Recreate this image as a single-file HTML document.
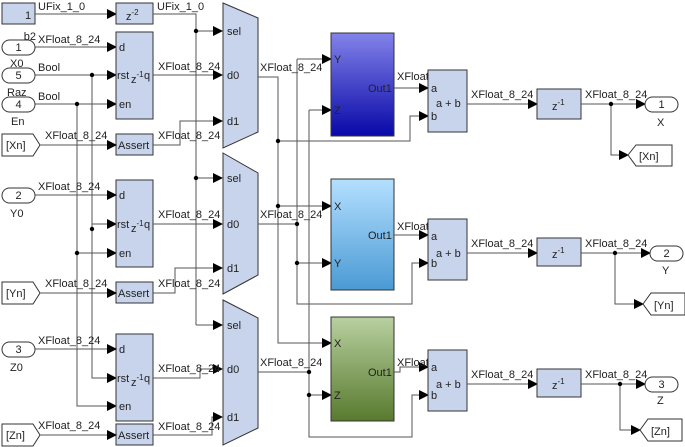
<!DOCTYPE html>
<html><head><meta charset="utf-8"><style>
html,body{margin:0;padding:0;background:#fff}
svg{display:block}
text{font-family:"Liberation Sans",sans-serif;font-size:11px;fill:#222}
.l{stroke:#555;stroke-width:1;fill:none}
.b{fill:#c8d4ec;stroke:#333;stroke-width:1}
</style></head><body>
<svg width="685" height="447" viewBox="0 0 685 447" xmlns="http://www.w3.org/2000/svg">
<defs>
<marker id="a" markerWidth="10" markerHeight="10" refX="9" refY="5" orient="auto" markerUnits="userSpaceOnUse"><path d="M0,0 L10,5 L0,10 z" fill="#000"/></marker>
<linearGradient id="g1" x1="0" y1="0" x2="0" y2="1"><stop offset="0" stop-color="#8383ea"/><stop offset="1" stop-color="#0808a8"/></linearGradient>
<linearGradient id="g2" x1="0" y1="0" x2="0" y2="1"><stop offset="0" stop-color="#b4e0ff"/><stop offset="1" stop-color="#4a9ad4"/></linearGradient>
<linearGradient id="g3" x1="0" y1="0" x2="0" y2="1"><stop offset="0" stop-color="#b8d0a0"/><stop offset="1" stop-color="#587a2e"/></linearGradient>
</defs>

<rect class="b" x="2" y="3" width="33" height="21"/><text x="25" y="19">1</text>
<path class="l" d="M35,14 H116" marker-end="url(#a)"/><text x="38" y="10">UFix_1_0</text>
<rect class="b" x="116" y="3" width="37" height="21"/><text x="126" y="20">z<tspan dy="-5" font-size="8">-2</tspan></text>
<text x="157" y="10">UFix_1_0</text>
<path class="l" d="M153,14 H196 V325"/>
<path class="l" d="M196,31 H222" marker-end="url(#a)"/>
<path class="l" d="M196,178 H222" marker-end="url(#a)"/>
<path class="l" d="M196,325 H222" marker-end="url(#a)"/>
<circle cx="196" cy="31" r="2.2"/><circle cx="196" cy="178" r="2.2"/>

<text x="36" y="40" text-anchor="end">b2</text>
<rect x="2" y="40" width="33" height="15" rx="7.5" fill="#fff" stroke="#333"/><text x="18.5" y="51" text-anchor="middle">1</text>
<text x="10" y="67">X0</text>
<rect x="2" y="68" width="33" height="15" rx="7.5" fill="#fff" stroke="#333"/><text x="18.5" y="79" text-anchor="middle">5</text>
<text x="7" y="96">Raz</text>
<rect x="2" y="97" width="33" height="15" rx="7.5" fill="#fff" stroke="#333"/><text x="18.5" y="108" text-anchor="middle">4</text>
<text x="11" y="125">En</text>
<path class="l" d="M35,47 H116" marker-end="url(#a)"/><text x="38" y="43">XFloat_8_24</text>
<path class="l" d="M35,75 H116" marker-end="url(#a)"/><text x="38" y="71">Bool</text>
<path class="l" d="M35,104 H116" marker-end="url(#a)"/><text x="38" y="100">Bool</text>
<path class="l" d="M92,75 V378 H116" marker-end="url(#a)"/>
<path class="l" d="M77,104 V406 H116" marker-end="url(#a)"/>
<path class="l" d="M92,224 H116" marker-end="url(#a)"/>
<path class="l" d="M77,253 H116" marker-end="url(#a)"/>
<circle cx="92" cy="75" r="2.2"/><circle cx="77" cy="104" r="2.2"/><circle cx="92" cy="229" r="2.2"/><circle cx="77" cy="253" r="2.2"/>

<rect class="b" x="116" y="32" width="37" height="87"/><text x="119" y="51">d</text><text x="117" y="79">rst</text><text x="131" y="83" font-size="10">z<tspan dy="-6" font-size="8">-1</tspan></text><text x="144" y="79">q</text><text x="119" y="108">en</text>
<rect class="b" x="116" y="180" width="37" height="87"/><text x="119" y="199">d</text><text x="117" y="228">rst</text><text x="131" y="232" font-size="10">z<tspan dy="-6" font-size="8">-1</tspan></text><text x="144" y="228">q</text><text x="119" y="257">en</text>
<rect class="b" x="116" y="334" width="37" height="87"/><text x="119" y="353">d</text><text x="117" y="382">rst</text><text x="131" y="386" font-size="10">z<tspan dy="-6" font-size="8">-1</tspan></text><text x="144" y="382">q</text><text x="119" y="410">en</text>

<rect class="b" x="116" y="134" width="37" height="21"/><text x="118" y="149">Assert</text>
<rect class="b" x="116" y="282" width="37" height="21"/><text x="118" y="297">Assert</text>
<rect class="b" x="116" y="424" width="37" height="21"/><text x="118" y="439">Assert</text>

<path d="M2,134 H33 L40,145 L33,156 H2 Z" fill="#fff" stroke="#333"/><text x="6" y="149">[Xn]</text>
<path d="M2,282 H33 L40,293 L33,304 H2 Z" fill="#fff" stroke="#333"/><text x="6" y="297">[Yn]</text>
<path d="M2,424 H33 L40,435 L33,446 H2 Z" fill="#fff" stroke="#333"/><text x="6" y="439">[Zn]</text>
<path class="l" d="M40,145 H116" marker-end="url(#a)"/><text x="45" y="139">XFloat_8_24</text>
<path class="l" d="M40,293 H116" marker-end="url(#a)"/><text x="45" y="287">XFloat_8_24</text>
<path class="l" d="M40,435 H116" marker-end="url(#a)"/><text x="38" y="429">XFloat_8_24</text>

<rect x="2" y="188" width="33" height="15" rx="7.5" fill="#fff" stroke="#333"/><text x="18.5" y="199" text-anchor="middle">2</text><text x="10" y="217">Y0</text>
<path class="l" d="M35,195 H116" marker-end="url(#a)"/><text x="38" y="190">XFloat_8_24</text>
<rect x="2" y="342" width="33" height="15" rx="7.5" fill="#fff" stroke="#333"/><text x="18.5" y="353" text-anchor="middle">3</text><text x="10" y="371">Z0</text>
<path class="l" d="M35,349 H116" marker-end="url(#a)"/><text x="38" y="344">XFloat_8_24</text>

<path class="l" d="M153,75 H222" marker-end="url(#a)"/><text x="158" y="70">XFloat_8_24</text>
<path class="l" d="M153,145 H180 V121 H222" marker-end="url(#a)"/><text x="158" y="139">XFloat_8_24</text>
<path class="l" d="M153,224 H222" marker-end="url(#a)"/><text x="158" y="218">XFloat_8_24</text>
<path class="l" d="M153,293 H175 V268 H222" marker-end="url(#a)"/><text x="158" y="287">XFloat_8_24</text>
<path class="l" d="M153,378 H200 V369 H222" marker-end="url(#a)"/><text x="158" y="372">XFloat_8_24</text>
<path class="l" d="M153,435 H212 V417 H222" marker-end="url(#a)"/><text x="158" y="430">XFloat_8_24</text>

<path class="b" d="M223,3 L258,18 V132 L223,148 Z"/><text x="227" y="35">sel</text><text x="227" y="79">d0</text><text x="227" y="125">d1</text>
<path class="b" d="M223,153 L258,173 V275 L223,294 Z"/><text x="227" y="182">sel</text><text x="227" y="228">d0</text><text x="227" y="272">d1</text>
<path class="b" d="M223,300 L258,318 V428 L223,445 Z"/><text x="227" y="329">sel</text><text x="227" y="373">d0</text><text x="227" y="421">d1</text>

<path class="l" d="M258,77 H278 V343 H331" marker-end="url(#a)"/><text x="260" y="71">XFloat_8_24</text>
<path class="l" d="M278,141 H410 V116 H428" marker-end="url(#a)"/>
<path class="l" d="M278,206 H331" marker-end="url(#a)"/>
<circle cx="278" cy="141" r="2.2"/><circle cx="278" cy="206" r="2.2"/>
<path class="l" d="M258,224 H297"/><text x="260" y="218">XFloat_8_24</text>
<path class="l" d="M297,59 V304 H412 V263 H428" marker-end="url(#a)"/>
<path class="l" d="M297,59 H331" marker-end="url(#a)"/>
<path class="l" d="M297,263 H331" marker-end="url(#a)"/>
<circle cx="297" cy="224" r="2.2"/><circle cx="297" cy="263" r="2.2"/>
<path class="l" d="M258,372 H309"/><text x="260" y="366">XFloat_8_24</text>
<path class="l" d="M309,110 V437 H412 V395 H428" marker-end="url(#a)"/>
<path class="l" d="M309,110 H331" marker-end="url(#a)"/>
<path class="l" d="M309,395 H331" marker-end="url(#a)"/>
<circle cx="309" cy="372" r="2.2"/><circle cx="309" cy="395" r="2.2"/>

<rect x="331" y="33" width="63" height="103" fill="url(#g1)" stroke="#333"/><text x="334" y="63">Y</text><text x="334" y="114">Z</text><text x="368" y="92">Out1</text>
<rect x="331" y="179" width="63" height="111" fill="url(#g2)" stroke="#333"/><text x="334" y="210">X</text><text x="334" y="267">Y</text><text x="368" y="239">Out1</text>
<rect x="331" y="317" width="63" height="104" fill="url(#g3)" stroke="#333"/><text x="334" y="347">X</text><text x="334" y="399">Z</text><text x="368" y="376">Out1</text>

<path class="l" d="M394,88 H428" marker-end="url(#a)"/><text x="397" y="80">XFloat</text>
<path class="l" d="M394,235 H428" marker-end="url(#a)"/><text x="397" y="230">XFloat</text>
<path class="l" d="M394,372 H400 V367 H428" marker-end="url(#a)"/><text x="397" y="366">XFloat_8_24</text>

<rect class="b" x="428" y="70" width="39" height="62"/><text x="431" y="92">a</text><text x="431" y="120">b</text><text x="436" y="107">a + b</text>
<rect class="b" x="428" y="219" width="39" height="61"/><text x="431" y="240">a</text><text x="431" y="267">b</text><text x="436" y="257">a + b</text>
<rect class="b" x="428" y="350" width="39" height="61"/><text x="431" y="371">a</text><text x="431" y="399">b</text><text x="436" y="388">a + b</text>

<path class="l" d="M467,104 H537" marker-end="url(#a)"/><text x="471" y="98">XFloat_8_24</text>
<path class="l" d="M467,253 H537" marker-end="url(#a)"/><text x="471" y="247">XFloat_8_24</text>
<path class="l" d="M467,384 H537" marker-end="url(#a)"/><text x="471" y="378">XFloat_8_24</text>

<rect class="b" x="537" y="89" width="44" height="30"/><text x="552" y="110">z<tspan dy="-5" font-size="8">-1</tspan></text>
<rect class="b" x="537" y="238" width="44" height="28"/><text x="552" y="258">z<tspan dy="-5" font-size="8">-1</tspan></text>
<rect class="b" x="537" y="369" width="44" height="28"/><text x="552" y="389">z<tspan dy="-5" font-size="8">-1</tspan></text>

<path class="l" d="M581,104 H645" marker-end="url(#a)"/><text x="585" y="98">XFloat_8_24</text>
<path class="l" d="M611,104 V155 H628" marker-end="url(#a)"/><circle cx="611" cy="104" r="2.2"/>
<path class="l" d="M581,253 H650" marker-end="url(#a)"/><text x="585" y="247">XFloat_8_24</text>
<path class="l" d="M615,253 V304 H643" marker-end="url(#a)"/><circle cx="615" cy="253" r="2.2"/>
<path class="l" d="M581,384 H645" marker-end="url(#a)"/><text x="585" y="378">XFloat_8_24</text>
<path class="l" d="M620,384 V430 H640" marker-end="url(#a)"/><circle cx="620" cy="384" r="2.2"/>

<rect x="645" y="97" width="33" height="15" rx="7.5" fill="#fff" stroke="#333"/><text x="661.5" y="108" text-anchor="middle">1</text><text x="657" y="126">X</text>
<rect x="650" y="246" width="33" height="15" rx="7.5" fill="#fff" stroke="#333"/><text x="666.5" y="257" text-anchor="middle">2</text><text x="662" y="274">Y</text>
<rect x="645" y="377" width="33" height="15" rx="7.5" fill="#fff" stroke="#333"/><text x="661.5" y="388" text-anchor="middle">3</text><text x="657" y="404">Z</text>

<path d="M628,155 L636,145 H672 V166 H636 Z" fill="#fff" stroke="#333"/><text x="639" y="160">[Xn]</text>
<path d="M643,304 L651,293 H685 V315 H651 Z" fill="#fff" stroke="#333"/><text x="654" y="309">[Yn]</text>
<path d="M640,430 L648,419 H682 V441 H648 Z" fill="#fff" stroke="#333"/><text x="651" y="435">[Zn]</text>
</svg>
</body></html>
